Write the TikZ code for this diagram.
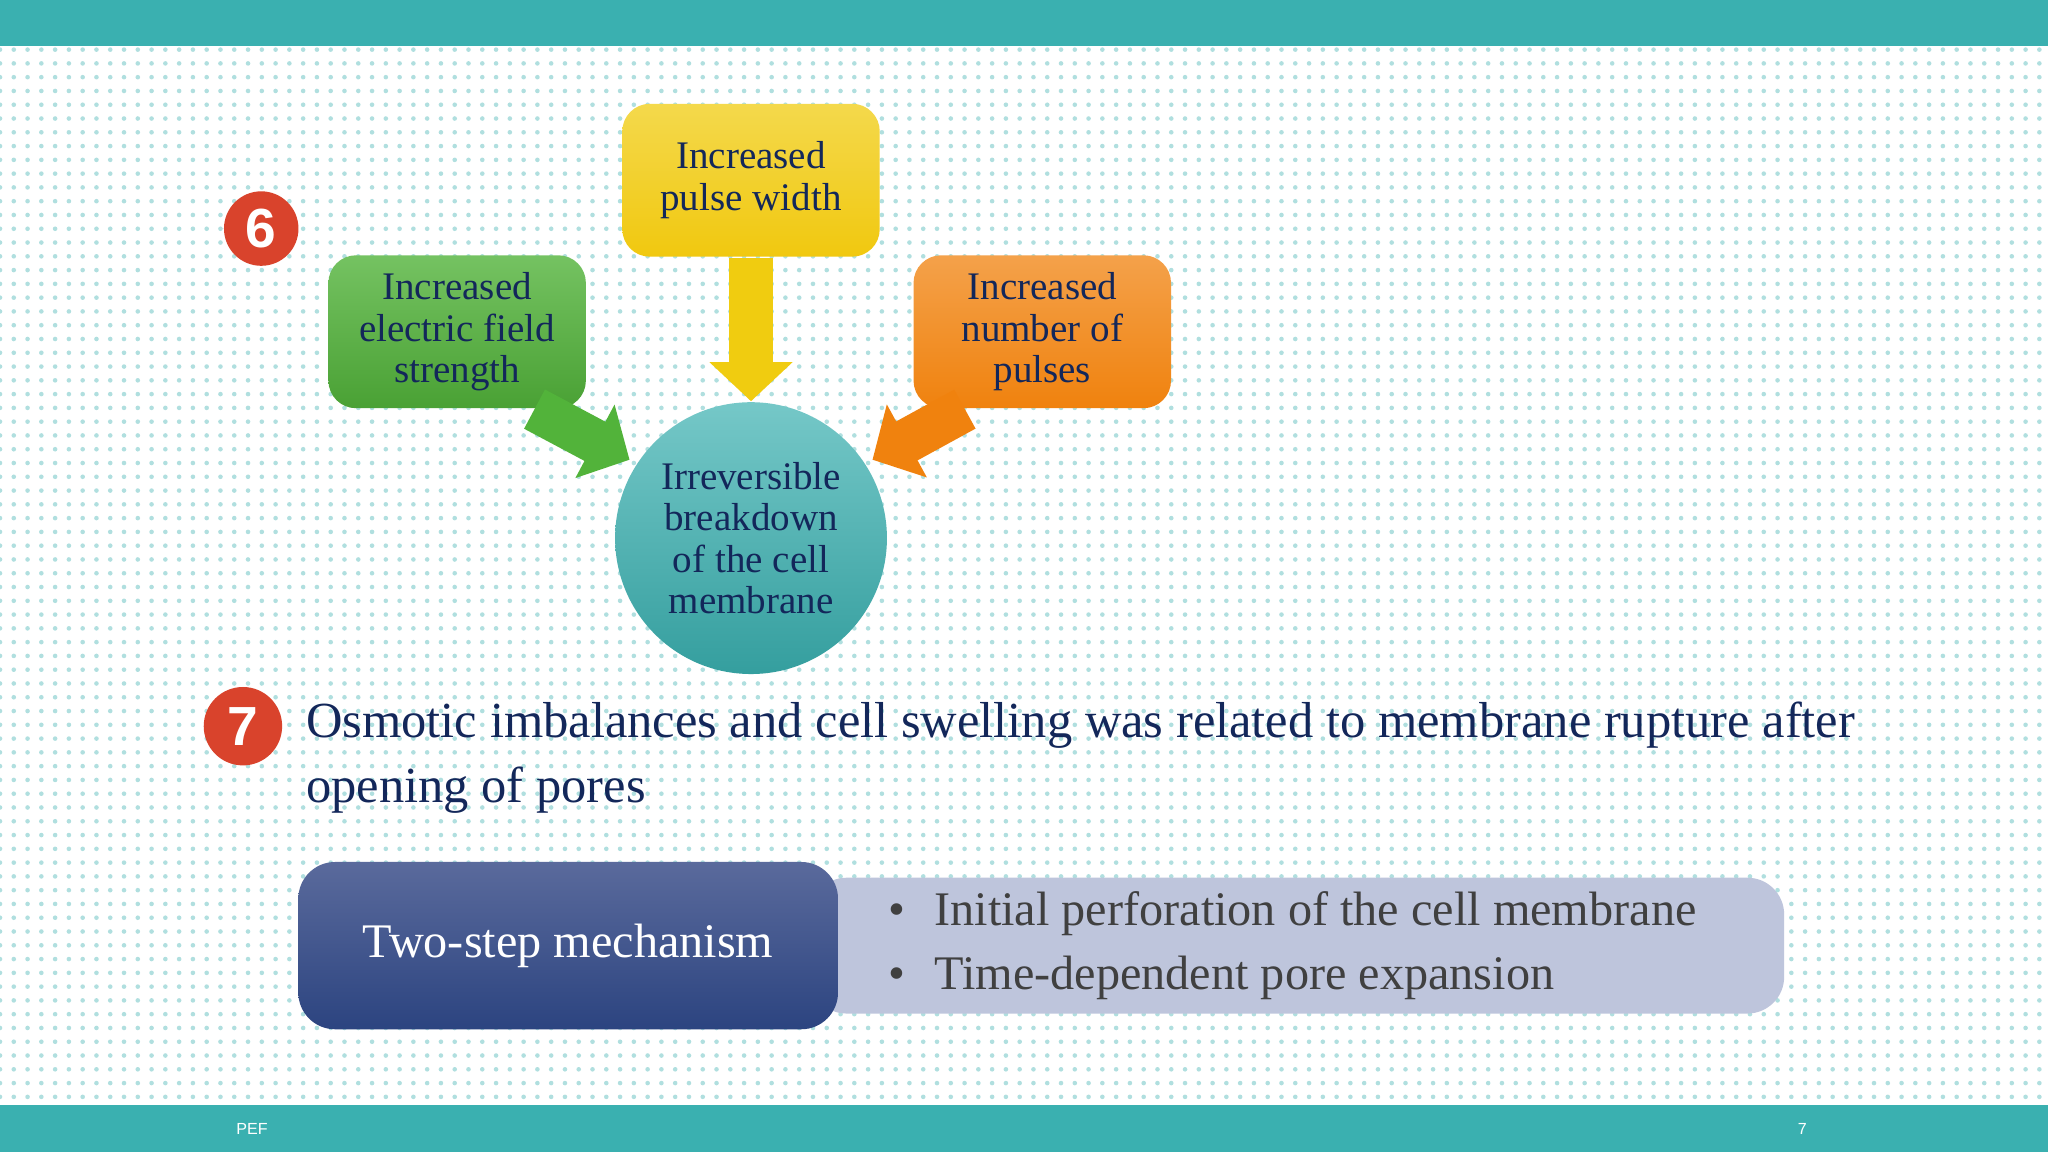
\documentclass[tikz,border=0pt]{standalone}
\usepackage{fontspec}
\setmainfont{Liberation Serif}
\newfontfamily\sansf{Liberation Sans}
\usetikzlibrary{arrows.meta}
\usetikzlibrary{patterns}
\definecolor{teal1}{HTML}{3AB0B0}
\definecolor{navy1}{HTML}{13275A}
\definecolor{badge}{HTML}{D9432C}
\definecolor{mechtop}{HTML}{5A6A9C}
\definecolor{mechbot}{HTML}{2C4480}
\definecolor{bulletbg}{HTML}{BEC5DC}
\definecolor{yel}{HTML}{F0CC10}
\definecolor{grn}{HTML}{52B33A}
\definecolor{orn}{HTML}{F0820E}
\tikzset{
  cause/.style={rounded corners=6pt, minimum width=1.97cm, minimum height=1.17cm,
    align=center, text=navy1, font=\fontsize{8.5}{9}\selectfont, inner sep=1pt},
  badgenode/.style={circle, fill=badge, text=white, font=\sansf\bfseries\fontsize{12}{12}\selectfont, minimum size=0.57cm, inner sep=0pt},
  feed/.style={line width=0.34cm, -{Triangle[length=0.3cm,width=0.62cm]}}
}
\begin{document}
\begin{tikzpicture}[x=0.01cm,y=-0.01cm]
        \useasboundingbox (0,0) rectangle (1568,882);
        \fill[white] (0,0) rectangle (1568,882);
        \fill[pattern=dots, pattern color=teal1!40] (0,35) rectangle (1568,846);
        \fill[teal1] (0,0) rectangle (1568,35);
        \fill[teal1] (0,846) rectangle (1568,882);
        \node[text=white, font=\sansf\fontsize{3.5}{4}\selectfont] (pef) at (193,864) {PEF};
        \node[text=white, font=\sansf\fontsize{3.5}{4}\selectfont] (pg) at (1380,864) {7};
        % causes
        \node[cause, top color=yel!75!white, bottom color=yel!95!orange] (width) at (575,138) {Increased\\pulse width};
        \node[cause, top color=grn!80!white, bottom color=grn!90!black] (field) at (350,254) {Increased\\electric field\\strength};
        \node[cause, top color=orn!75!white, bottom color=orn] (number) at (798,254) {Increased\\number of\\pulses};
        \node[circle, minimum size=2.08cm, inner sep=0pt, top color=teal1!70, bottom color=teal1!90!black, align=center, text=navy1, font=\fontsize{8.5}{9}\selectfont] (membrane) at (575,412) {Irreversible\\breakdown\\of the cell\\membrane};
        \draw[feed, yel] (width.south) -- (membrane.north);
        \draw[feed, grn] (field.south east) ++(-40,0) coordinate (fs) -- (482,352) coordinate (fe);
        \draw[feed, orn] (number.south west) ++(40,0) coordinate (ns) -- (668,352) coordinate (ne);
        \node[badgenode] (six) at (200,175) {6};
        \node[badgenode, minimum size=0.6cm] (seven) at (186,556) {7};
        \node[anchor=west, align=left, text=navy1, font=\fontsize{11}{14}\selectfont] (osmo) at (222,580) {Osmotic imbalances and cell swelling was related to membrane rupture after\\opening of pores};
        % two-step
        \fill[rounded corners=8pt, fill=bulletbg] (620,672) rectangle (1366,776);
        \node[anchor=west, align=left, text=black!75, font=\fontsize{10.5}{14}\selectfont] (bullets) at (668,724) {\textbullet\hspace{0.6em}Initial perforation of the cell membrane\\\textbullet\hspace{0.6em}Time-dependent pore expansion};
        \node[rounded corners=8pt, minimum width=4.13cm, minimum height=1.28cm, top color=mechtop, bottom color=mechbot, text=white, font=\fontsize{10.5}{12}\selectfont] (mech) at (435,724) {Two-step mechanism};
\end{tikzpicture}
\end{document}
